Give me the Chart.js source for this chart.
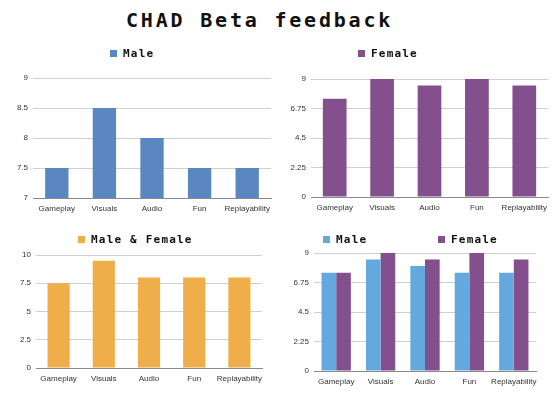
<!DOCTYPE html>
<html>
<head>
<meta charset="utf-8">
<script src="https://cdn.jsdelivr.net/npm/chart.js@4"></script>
<style>
  html, body { margin: 0; padding: 0; background: #ffffff; }
  #page { position: relative; width: 560px; height: 396px; overflow: hidden; background: #ffffff; }
  #title { position: absolute; left: 126px; top: 10px; font-family: "DejaVu Sans Mono", monospace; font-weight: bold; font-size: 20px; line-height: 20px; letter-spacing: 2.8px; color: #111; white-space: nowrap; }
  canvas { position: absolute; left: 0; top: 0; pointer-events: none; }
</style>
</head>
<body>
<div id="page">
  <div id="title">CHAD Beta feedback</div>
  <canvas id="c1" width="560" height="396"></canvas>
  <canvas id="c2" width="560" height="396"></canvas>
  <canvas id="c3" width="560" height="396"></canvas>
  <canvas id="c4" width="560" height="396"></canvas>
</div>
<script>
// ---- data ----
const categories = ['Gameplay', 'Visuals', 'Audio', 'Fun', 'Replayability'];
const maleScores = [7.5, 8.5, 8, 7.5, 7.5];
const femaleScores = [7.5, 9, 8.5, 9, 8.5];
const combinedScores = [7.5, 9.5, 8, 8, 8];
const maleTicks = [7, 7.5, 8, 8.5, 9];
const femaleTicks = [0, 2.25, 4.5, 6.75, 9];
const combinedTicks = [0, 2.5, 5, 7.5, 10];
const compareTicks = [0, 2.25, 4.5, 6.75, 9];

// ---- styles ----
const BLUE = '#5a87bf';
const PURPLE = '#834f8c';
const ORANGE = '#efae4a';
const LIGHTBLUE = '#64a9dd';
const W = 560, H = 396;
const Y_AXIS_W = 30, X_AXIS_H = 20;

function squareLegend(xs, y) {
  return {
    id: 'squareLegend',
    afterDraw(chart) {
      const ctx = chart.ctx;
      ctx.save();
      ctx.font = 'bold 11px "DejaVu Sans Mono", monospace';
      if ('letterSpacing' in ctx) ctx.letterSpacing = '1.2px';
      ctx.textBaseline = 'middle';
      ctx.textAlign = 'left';
      chart.data.datasets.forEach((ds, i) => {
        const x = xs[i];
        ctx.fillStyle = ds.backgroundColor;
        ctx.fillRect(x, y - 3.5, 7, 7);
        ctx.fillStyle = '#111';
        ctx.fillText(ds.label, x + 13, y + 0.5);
      });
      ctx.restore();
    }
  };
}

function buildChart(id, cfg) {
  const a = cfg.area;
  const tickArr = cfg.ticks;
  return new Chart(document.getElementById(id), {
    type: 'bar',
    data: { labels: categories, datasets: cfg.datasets },
    options: {
      responsive: false,
      animation: false,
      events: [],
      layout: { padding: { left: a.l - Y_AXIS_W, top: a.t, right: W - a.r, bottom: H - a.b - X_AXIS_H } },
      datasets: { bar: { categoryPercentage: cfg.catPct, barPercentage: cfg.barPct } },
      plugins: { legend: { display: false }, tooltip: { enabled: false }, title: { display: false } },
      scales: {
        x: {
          grid: { display: false, drawTicks: false },
          border: { display: true, color: '#8a8a8a', width: 1 },
          ticks: { color: '#333', font: { family: '"Liberation Sans", Arial, sans-serif', size: 8 }, padding: 6, maxRotation: 0, autoSkip: false },
          afterFit(s) { s.height = X_AXIS_H; }
        },
        y: {
          min: tickArr[0],
          max: tickArr[tickArr.length - 1],
          afterBuildTicks(s) { s.ticks = tickArr.map(v => ({ value: v })); },
          grid: { color: '#cfcfcf', lineWidth: 1, drawTicks: false },
          border: { display: false },
          ticks: { color: '#333', font: { family: '"Liberation Sans", Arial, sans-serif', size: 8 }, padding: 5, callback: v => String(v) },
          afterFit(s) { s.width = Y_AXIS_W; }
        }
      }
    },
    plugins: [squareLegend(cfg.legendX, cfg.legendY)]
  });
}

buildChart('c1', {
  area: { l: 33, t: 78, r: 271, b: 198 },
  ticks: maleTicks,
  catPct: 1, barPct: 0.49,
  datasets: [{ label: 'Male', data: maleScores, backgroundColor: BLUE }],
  legendX: [110], legendY: 53.5
});

buildChart('c2', {
  area: { l: 311, t: 79, r: 548, b: 197 },
  ticks: femaleTicks,
  catPct: 1, barPct: 0.5,
  datasets: [{ label: 'Female', data: femaleScores, backgroundColor: PURPLE }],
  legendX: [358], legendY: 53.5
});

buildChart('c3', {
  area: { l: 36, t: 255, r: 262, b: 368 },
  ticks: combinedTicks,
  catPct: 1, barPct: 0.49,
  datasets: [{ label: 'Male & Female', data: combinedScores, backgroundColor: ORANGE }],
  legendX: [78], legendY: 239.5
});

buildChart('c4', {
  area: { l: 314, t: 253, r: 536, b: 371 },
  ticks: compareTicks,
  catPct: 0.66, barPct: 1,
  datasets: [
    { label: 'Male', data: maleScores, backgroundColor: LIGHTBLUE },
    { label: 'Female', data: femaleScores, backgroundColor: PURPLE }
  ],
  legendX: [323, 438], legendY: 239.5
});
</script>
</body>
</html>
